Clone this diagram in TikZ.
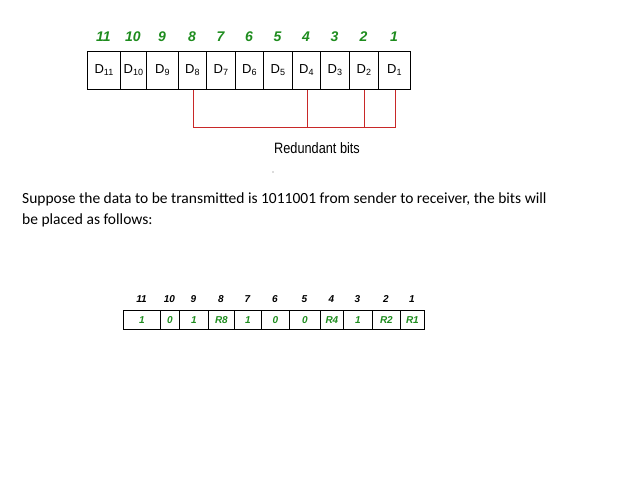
\documentclass[tikz,border=0pt]{standalone}
\usepackage{fontspec}
\setmainfont{Carlito}
\newfontfamily\arl{Liberation Sans}
\newfontfamily\arn{Liberation Sans}[FakeStretch=0.85]
\definecolor{grn}{RGB}{30,140,30}
\definecolor{rd}{RGB}{200,40,40}
\begin{document}
\begin{tikzpicture}[x=1pt,y=-1pt,
  cell/.style={draw,thick,minimum height=38pt,inner sep=0pt,font=\arl\fontsize{13}{14}\selectfont},
  cellb/.style={draw,thick,minimum height=19pt,inner sep=0pt,font=\arl\bfseries\itshape\fontsize{10}{11}\selectfont,text=grn},
  num/.style={font=\arl\bfseries\itshape\fontsize{14}{15}\selectfont,text=grn},
  numb/.style={font=\arl\bfseries\itshape\fontsize{10}{11}\selectfont},
  redline/.style={draw=rd,thick}]
\useasboundingbox (0,0) rectangle (638,478);
% top register
\foreach \i/\a/\b in {11/87/120,10/120/146,9/146/178,8/178/206,7/206/235,6/235/263,5/263/292,4/292/320,3/320/349,2/349/378,1/378/410}{
  \node[cell,minimum width={\b-\a},anchor=north west] (d\i) at (\a,51) {D\raisebox{-0.3ex}{\fontsize{9}{10}\selectfont\i}};
  \node[num] (n\i) at ({(\a+\b)/2},37) {\i};
}
\coordinate (c8) at (193,127);
\coordinate (c4) at (307,127);
\coordinate (c2) at (364,127);
\coordinate (c1) at (395,127);
\draw[redline] (d8.south -| c8) -- (c8) -- (c1) -- (d1.south -| c1);
\draw[redline] (d4.south -| c4) -- (c4);
\draw[redline] (d2.south -| c2) -- (c2);
\node[font=\arn\fontsize{15}{16}\selectfont] (rb) at (317,148) {Redundant bits};
\node[fill=black!60,circle,inner sep=0.5pt] (dot) at (273,172) {};
% paragraph
\node[anchor=west,align=left,font=\fontsize{15.5}{21}\selectfont,inner sep=0pt] (txt) at (22,209.5)
 {Suppose the data to be transmitted is 1011001 from sender to receiver, the bits will\\be placed as follows:};
% bottom register
\foreach \i/\a/\b/\t in {11/123/160/1,10/160/179/0,9/179/208/1,8/208/234/R8,7/234/261/1,6/261/289/0,5/289/320/0,4/320/343/R4,3/343/372/1,2/372/400/R2,1/400/424/R1}{
  \node[cellb,minimum width={\b-\a},anchor=north west] (b\i) at (\a,310) {\t};
  \node[numb] (m\i) at ({(\a+\b)/2},299) {\i};
}
\end{tikzpicture}
\end{document}
